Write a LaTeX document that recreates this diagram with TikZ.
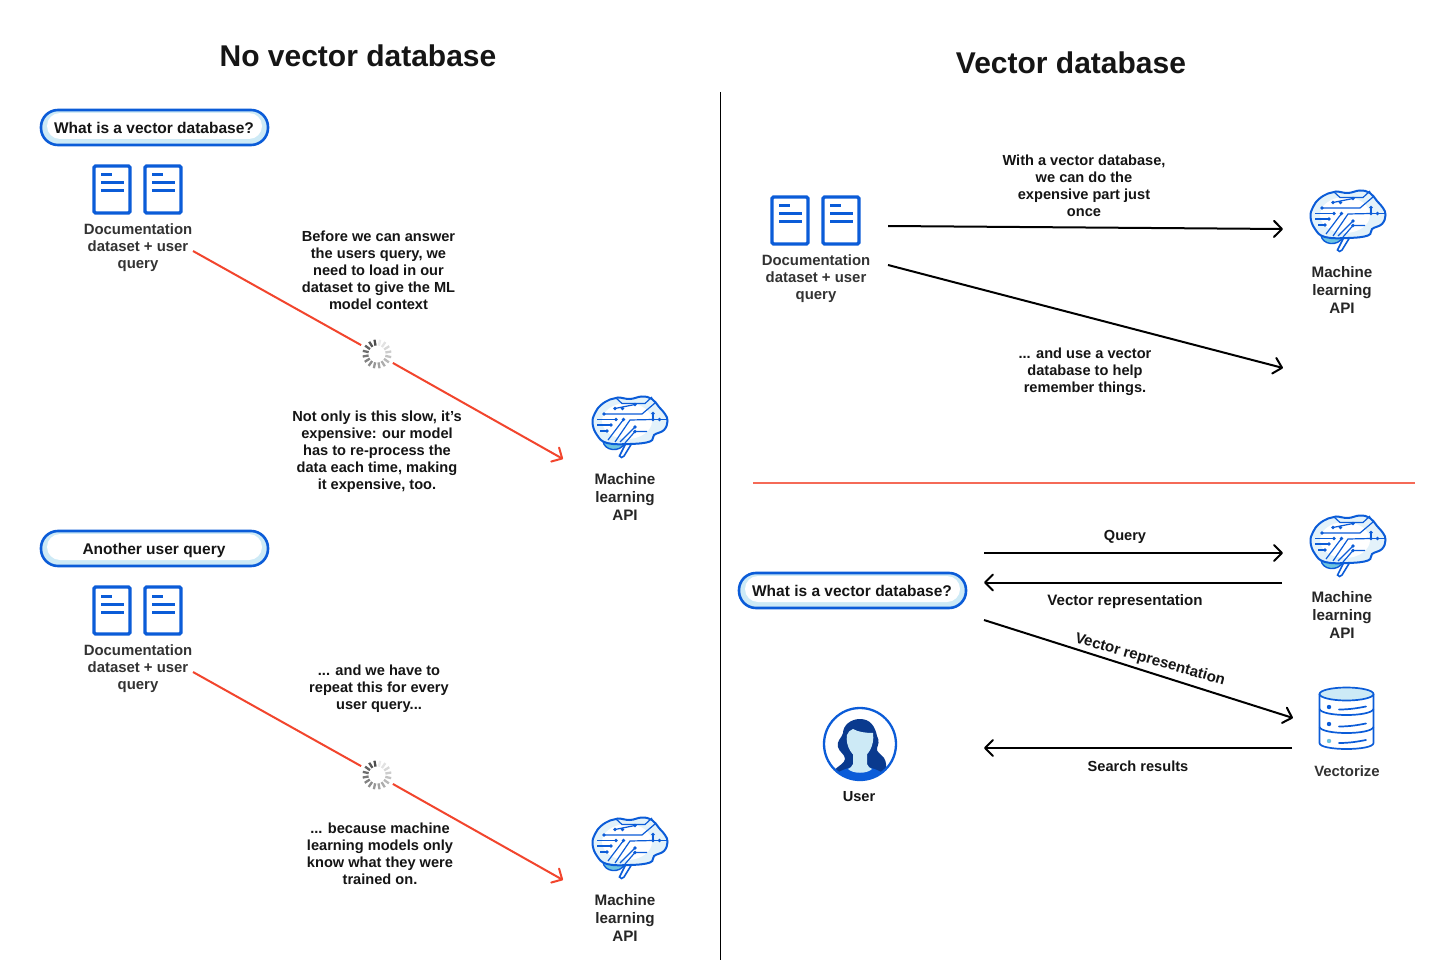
\documentclass[tikz,border=0pt]{standalone}
\usepackage{fontspec}
\setmainfont{Liberation Sans}
\usetikzlibrary{arrows.meta}
\definecolor{ib}{HTML}{0B5CD8}
\definecolor{lb}{HTML}{CDEAF6}
\definecolor{vl}{HTML}{E3F2FA}
\definecolor{navy}{HTML}{0A3A8E}
\definecolor{teal2}{HTML}{6CC3E0}
\definecolor{redl}{HTML}{F2452D}
\definecolor{ink}{HTML}{151515}
\tikzset{
  x=1pt,y=-1pt,
  lab/.style={font=\bfseries\fontsize{14.6}{17}\selectfont,align=center,inner sep=0pt,text=ink},
  dlab/.style={font=\bfseries\fontsize{14.9}{17}\selectfont,align=center,inner sep=0pt,text=black!80},
  plab/.style={font=\bfseries\fontsize{15.5}{17}\selectfont,align=center,inner sep=0pt,text=ink},
  vlab/.style={font=\bfseries\fontsize{15.1}{17}\selectfont,align=center,inner sep=0pt,text=ink},
  mlab/.style={font=\bfseries\fontsize{15.2}{18}\selectfont,align=center,inner sep=0pt,text=black!85},
  ttl/.style={font=\bfseries\fontsize{30}{32}\selectfont,inner sep=0pt,text=ink},
  conn/.style={line width=2pt,draw=black,-{Straight Barb[length=8pt,width=16pt,line width=2pt,round]}},
  plainconn/.style={line width=2pt,draw=redl},
  redconn/.style={line width=2pt,draw=redl,-{Straight Barb[length=8pt,width=16pt,line width=2pt,round]}},
  spinnode/.style={circle,minimum size=36pt,inner sep=0pt,draw=none},
  pill/.pic={
    \fill[lb,rounded corners=17pt] (0,0) rectangle (227,35);
    \fill[white,rounded corners=13pt] (6,3) rectangle (221,29);
    \draw[ib,line width=2.6pt,rounded corners=17pt] (0,0) rectangle (227,35);
  },
  doc/.pic={
    \draw[ib,line width=3.3pt,rounded corners=1.5pt] (0,0) rectangle (36,47);
    \draw[ib,line width=3pt] (7,9)--(18,9) (7,17)--(29.5,17) (7,25)--(29.5,25);
  },
  docs/.pic={
    \pic at (0,0) {doc};
    \pic at (51,0) {doc};
  },
  brain/.pic={
    \fill[teal2,draw=ib,line width=1.4pt] (23,56) .. controls (24,66) and (40,68) .. (45,58) -- cycle;
    \fill[white,draw=ib,line width=1.6pt] (46,58) -- (39.5,71) .. controls (40,73) and (43,73) .. (44,71) -- (52,58) -- cycle;
    \fill[vl,draw=ib,line width=2pt] plot[smooth cycle,tension=0.7] coordinates {(12.5,38) (15,28) (21,20) (30,14.5) (38,12.5) (50,14) (62,11.5) (72,14) (79,22) (85,29) (87.5,36) (84,45) (74,50) (70,56.5) (50,59) (27,58) (17,50)};
    \fill[white] (47,36) ellipse (25pt and 18pt);
    \begin{scope}[ib,line width=1.2pt]
      \draw (36,13)--(42,18.5)--(65,18.5)--(72,12);
      \draw (24,29)--(62,29)--(75,18);
      \draw (35,23.5)--(55,19.5);
      \draw (17,34.5)--(36,34.5);
      \draw (17,40)--(31,40);
      \draw (20,46)--(27,46);
      \draw (28,55)--(43.5,34.5);
      \draw (35,57)--(50,35)--(73,34.5);
      \draw (40,57)--(55,42);
      \draw (45,58)--(55,46.5)--(67,46.5);
      \draw (73,28.5)--(73,34.5) (73,34.5)--(87,34.5);
      \foreach \p in {(24,29),(35,23.5),(42.5,23.5),(55,19.5),(36,34.5),(43.5,34.5),(31,40),(27,46),(55,42),(55,46.5),(73,28.5),(73,34.5),(79.5,34.5)}
        \fill[ib] \p circle (1.8pt);
    \end{scope}
  },
}
\begin{document}
\begin{tikzpicture}
\useasboundingbox (0,0) rectangle (1440,960);
\fill[white] (0,0) rectangle (1440,960);

% titles
\node[ttl] (t1) at (358,56) {No vector database};
\node[ttl] (t2) at (1071,63) {Vector database};

% dividers
\coordinate (d1) at (720,92); \coordinate (d2) at (720,960);
\coordinate (d3) at (753,483); \coordinate (d4) at (1415,483);
\draw[draw=black,line width=1pt] (d1)--(d2);
\draw[draw=redl!80!white,line width=1.1pt] (d3)--(d4);

% pills
\pic at (41,110) {pill};
\node[plab] (p1) at (154,128) {What is a vector database?};
\pic at (41,531) {pill};
\node[plab] (p2) at (154,550) {Another user query};
\pic at (739,573) {pill};
\node[plab] (p3) at (852,591) {What is a vector database?};

% docs
\pic at (94,166) {docs};
\node[dlab] (d1l) at (138,247.5) {Documentation\\dataset + user\\query};
\pic at (94,587) {docs};
\node[dlab] (d2l) at (138,668.5) {Documentation\\dataset + user\\query};
\pic at (772,197) {docs};
\node[dlab] (d3l) at (816,278.5) {Documentation\\dataset + user\\query};

% brains
\pic at (580,385) {brain};
\node[mlab] (b1) at (625,497) {Machine\\learning\\API};
\pic at (580,806) {brain};
\node[mlab] (b2) at (625,918) {Machine\\learning\\API};
\pic at (1298,179) {brain};
\node[mlab] (b3) at (1342,290) {Machine\\learning\\API};
\pic at (1298,504) {brain};
\node[mlab] (b4) at (1342,615) {Machine\\learning\\API};

% spinners
\foreach \cx/\cy/\nm in {377/354/s1,377/775/s2}{
  \node[spinnode] (\nm) at (\cx,\cy) {};
  \foreach \i in {0,...,15}{
    \pgfmathsetmacro{\ang}{-(100+\i*22.5)}
    \pgfmathsetmacro{\shade}{max(8,70-\i*4.2)}
    \draw[black!\shade!white,line width=2.3pt] (\cx,\cy) ++(\ang:8.5) -- ++(\ang:6);
  }
}

% left connectors
\coordinate (a1s) at (193,251); \coordinate (a1e) at (563,459);
\draw[plainconn] (a1s)--(s1);
\draw[redconn] (s1)--(a1e);
\coordinate (a2s) at (193,672); \coordinate (a2e) at (563,880);
\draw[plainconn] (a2s)--(s2);
\draw[redconn] (s2)--(a2e);

% left texts
\node[lab] (x1) at (378.5,270) {Before we can answer\\the users query, we\\need to load in our\\dataset to give the ML\\model context};
\node[lab] (x2) at (377,451.5) {Not only is this slow, it’s\\expensive: our model\\has to re-process the\\data each time, making\\it expensive, too.};
\node[lab] (x3) at (379,688.5) {... and we have to\\repeat this for every\\user query...};
\node[lab] (x4) at (380,854) {... because machine\\learning models only\\know what they were\\trained on.};

% right upper connectors
\coordinate (r1s) at (888,226); \coordinate (r1e) at (1283,229);
\coordinate (r2s) at (888,265); \coordinate (r2e) at (1283,368);
\draw[conn] (r1s)--(r1e);
\draw[conn] (r2s)--(r2e);
\node[lab] (x5) at (1084,186) {With a vector database,\\we can do the\\expensive part just\\once};
\node[lab] (x6) at (1085,372) {... and use a vector\\database to help\\remember things.};

% right lower connectors
\coordinate (q1) at (984,553); \coordinate (q2) at (1283,553);
\coordinate (v1) at (1282,582.5); \coordinate (v2) at (984,582.5);
\coordinate (w1) at (984,620); \coordinate (w2) at (1293,718);
\coordinate (z1) at (1292,748); \coordinate (z2) at (984,748);
\draw[conn] (q1)--(q2);
\draw[conn] (v1)--(v2);
\draw[conn] (w1)--(w2);
\draw[conn] (z1)--(z2);
\node[lab] (l1) at (1125,537) {Query};
\node[vlab] (l2) at (1125,602) {Vector representation};
\node[vlab,rotate=-16] (l3) at (1150,660) {Vector representation};
\node[lab] (l4) at (1138,766.5) {Search results};

% database
\begin{scope}[ib,line width=1.7pt]
  \draw[fill=white] (1319.5,694) -- (1319.5,743) .. controls (1319.5,751) and (1373.5,751) .. (1373.5,743) -- (1373.5,694);
  \draw[fill=lb] (1346.5,694) ellipse (27pt and 6.5pt);
  \draw (1319.5,709) .. controls (1322,717) and (1371,717) .. (1373.5,709);
  \draw (1319.5,727) .. controls (1322,735) and (1371,735) .. (1373.5,727);
  \draw[line cap=round] (1339,709.5) .. controls (1350,709.5) and (1358,708) .. (1366,706.5);
  \draw[line cap=round] (1339,726.5) .. controls (1350,726.5) and (1358,725) .. (1366,723.5);
  \draw[line cap=round] (1339,743) .. controls (1350,743) and (1358,741.5) .. (1366,740);
  \fill[ib] (1329,707) circle (2.2pt) (1329,724) circle (2.2pt);
  \fill[teal2] (1329,741) circle (2.2pt);
\end{scope}
\node[dlab] (db) at (1347,771) {Vectorize};

% user
\begin{scope}
  \clip (860,744) circle (36pt);
  \fill[white] (860,744) circle (36pt);
  \fill[navy] (860,719) .. controls (850,719) and (843,726) .. (843,733)
     .. controls (842,738) and (836,741) .. (838,747)
     .. controls (839,752) and (845,754) .. (845,759)
     .. controls (845,763) and (838,766) .. (832,772) -- (886,774)
     .. controls (887,766) and (886,761) .. (884,758)
     .. controls (881,754) and (876,752) .. (877,748)
     .. controls (878,745) and (880,741) .. (877,736)
     .. controls (875,726) and (870,719) .. (860,719) -- cycle;
  \fill[ib] (820,790) .. controls (830,773) and (845,769) .. (852,767)
     -- (868,767) .. controls (875,769) and (890,773) .. (900,790) -- cycle;
  \fill[lb] (853,750) -- (853,764) .. controls (852,767) and (850,768) .. (848,769)
     .. controls (853,774) and (867,774) .. (872,769)
     .. controls (870,768) and (868,767) .. (867,764) -- (867,750) -- cycle;
  \fill[lb] (847,735) .. controls (848,732) and (850,730) .. (853,729)
     .. controls (858,732) and (866,733) .. (873,733)
     .. controls (875,746) and (867,758) .. (860,758)
     .. controls (853,758) and (845,746) .. (847,735) -- cycle;
\end{scope}
\draw[ib,line width=2.3pt] (860,744) circle (36pt);
\node[lab] (u) at (859,797) {User};
\end{tikzpicture}
\end{document}
